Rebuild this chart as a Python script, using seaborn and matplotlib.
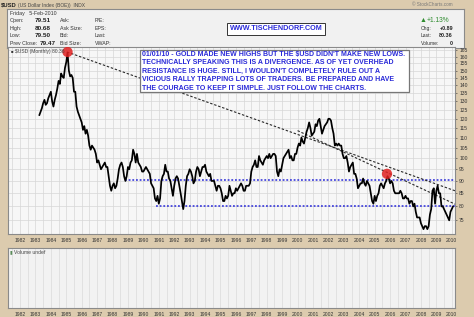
import numpy as np
import pandas as pd
import matplotlib
matplotlib.use("Agg")
import matplotlib.pyplot as plt
import seaborn as sns
from matplotlib.ticker import FixedLocator, NullLocator

sns.set_style("white")
plt.rcParams["font.family"] = ["Liberation Sans", "DejaVu Sans"]

# $USD monthly closes, first bar = April 1983
start_year = 1983
start_month = 4
usd_close = [
    122, 124, 126, 129, 131, 128, 129, 132, 134,                # 1983
    136, 130, 127, 131, 134, 138, 143, 141, 148, 146, 145, 152,  # 1984
    156, 163, 150, 146, 147, 145, 136, 136, 127, 124, 122, 120,  # 1985
    118, 114, 116, 112, 114, 111, 106, 104, 106, 105, 104, 102,  # 1986
    98, 99, 97, 95, 96, 97, 98, 96, 96, 92, 88, 86,              # 1987
    88, 89, 87, 88, 91, 95, 97, 98, 96, 92, 90, 92,              # 1988
    96, 95, 98, 99, 104, 102, 98, 102, 98, 97, 96, 94,           # 1989
    94, 95, 96, 95, 94, 93, 89, 88, 87, 83, 82, 84,              # 1990
    81, 83, 90, 92, 93, 97, 94, 94, 91, 90, 87, 84,              # 1991
    88, 91, 92, 91, 88, 85, 82, 79, 82, 88, 92, 93,              # 1992
    95, 94, 92, 89, 90, 94, 96, 95, 92, 94, 96, 96,              # 1993
    97, 94, 93, 92, 93, 90, 90, 90, 88, 86, 88, 88,              # 1994
    87, 85, 82, 82, 84, 83, 84, 88, 86, 84, 85, 85,              # 1995
    87, 86, 87, 88, 89, 88, 86, 86, 88, 88, 88, 89,              # 1996
    94, 96, 97, 99, 96, 96, 101, 99, 98, 97, 99, 100,            # 1997
    101, 100, 102, 100, 101, 102, 102, 101, 94, 92, 95, 94,      # 1998
    97, 100, 101, 102, 103, 104, 100, 101, 99, 99, 102, 102,     # 1999
    105, 107, 106, 110, 108, 107, 110, 113, 115, 118, 115, 111,  # 2000
    112, 113, 117, 116, 119, 120, 116, 112, 114, 116, 117, 118,  # 2001
    120, 120, 119, 115, 112, 106, 107, 106, 107, 106, 106, 102,  # 2002
    100, 100, 101, 98, 94, 96, 97, 98, 93, 93, 91, 87,           # 2003
    88, 89, 89, 91, 89, 88, 90, 89, 88, 85, 82, 81,              # 2004
    84, 82, 84, 85, 88, 89, 88, 87, 89, 90, 92, 91,              # 2005
    89, 90, 89, 86, 85, 85, 85, 85, 86, 85, 83, 83,              # 2006
    84, 83, 83, 81, 82, 82, 80, 81, 78, 76, 76, 76,              # 2007
    74, 73, 72, 73, 73, 72, 73, 77, 79, 86, 87, 81,              # 2008
    86, 88, 85, 85, 80, 80, 79, 78, 77, 76, 75, 78,              # 2009
    79, 80,                                                      # 2010
]

# hand-drawn annotations
trend_a_t = [1985.05, 2010.3]
trend_a_v = [163.5, 85.8]
trend_b_t = [2000.0, 2010.3]
trend_b_v = [113.6, 80.6]
support_levels = [90.3, 80.2]
support_start = [1988.8, 1990.85]
circle_t = [1985.08, 2005.8]
circle_v = [163.5, 93.0]

year_labels = list(range(1982, 2011))
price_ticks = list(range(75, 170, 5))

info_rows = ["Open:", "High:", "Low:", "Prev Close:"]
info_vals = ["79.51", "80.68", "79.50", "79.47"]
info_mid = ["Ask:", "Ask Size:", "Bid:", "Bid Size:"]
info_right = ["P/E:", "EPS:", "Last:", "VWAP:"]
quote_labels = ["Chg:", "Last:", "Volume:"]
quote_vals = ["+0.89", "80.36", "0"]

note_lines = [
    "01/01/10 - GOLD MADE NEW HIGHS BUT THE $USD DIDN'T MAKE NEW LOWS.",
    "TECHNICALLY SPEAKING THIS IS A DIVERGENCE. AS OF YET OVERHEAD",
    "RESISTANCE IS HUGE. STILL, I WOULDN'T COMPLETELY RULE OUT A",
    "VICIOUS RALLY TRAPPING LOTS OF TRADERS. BE PREPARED AND HAVE",
    "THE COURAGE TO KEEP IT SIMPLE. JUST FOLLOW THE CHARTS.",
]

df = pd.DataFrame({
    "t": [start_year + (start_month - 1 + i) / 12 for i in range(len(usd_close))],
    "close": usd_close,
})

BEIGE = "#dccbae"
PANEL = "#f7f7f7"
GRID = "#d6d6d6"
BLUE = "#2a2ad8"

W, H = 474, 317
fig = plt.figure(figsize=(W / 100, H / 100), dpi=100, facecolor=BEIGE)


def box(x0, y0, x1, y1):
    return [x0 / W, 1 - y1 / H, (x1 - x0) / W, (y1 - y0) / H]


def put(x, y, s, **kw):
    kw.setdefault("va", "center")
    kw.setdefault("fontsize", 4)
    kw.setdefault("color", "#333333")
    fig.text(x / W, 1 - y / H, s, **kw)


# header / quote box
ax_info = fig.add_axes(box(7, 9, 464, 48))
ax_info.set_facecolor("#f1f1f1")
ax_info.set_xticks([])
ax_info.set_yticks([])
for sp in ax_info.spines.values():
    sp.set_color("#8a8a8a")
    sp.set_linewidth(0.8)

xmin, xmax = 1981.22, 2010.21
ymin, ymax = 70.4, 167.3

# price panel
ax = fig.add_axes(box(8, 47, 455, 234))
ax.set_facecolor(PANEL)
ax.set_yscale("log")
ax.set_xlim(xmin, xmax)
ax.set_ylim(ymin, ymax)

for lvl, t0 in zip(support_levels, support_start):
    ax.plot([t0, xmax], [lvl, lvl], color=BLUE, ls=(0, (1.2, 1.2)), lw=1.1, zorder=3)
ax.plot(trend_a_t, trend_a_v, color="#2a2a2a", ls=(0, (2.2, 1.6)), lw=0.8, zorder=3)
ax.plot(trend_b_t, trend_b_v, color="#2a2a2a", ls=(0, (2.2, 1.6)), lw=0.8, zorder=3)

sns.lineplot(data=df, x="t", y="close", ax=ax, color="black", lw=1.25, zorder=4)
sns.scatterplot(x=circle_t, y=circle_v, ax=ax, color="#e02020", s=55, alpha=0.85,
                edgecolor="none", zorder=5)

ax.yaxis.tick_right()
ax.yaxis.set_major_locator(FixedLocator(price_ticks))
ax.yaxis.set_minor_locator(NullLocator())
ax.set_yticklabels([str(v) for v in price_ticks])
ax.xaxis.set_major_locator(FixedLocator(year_labels))
ax.xaxis.set_minor_locator(FixedLocator([y + 0.5 for y in range(1981, 2011)]))
ax.set_xticklabels([str(y) for y in year_labels])
ax.tick_params(axis="x", which="both", length=0, labelsize=3.6, pad=3, colors="#333333")
ax.tick_params(axis="y", which="major", length=1.5, width=0.4, labelsize=3.6, pad=1.5,
               colors="#333333")
ax.grid(True, which="major", color=GRID, lw=0.5)
ax.grid(True, which="minor", axis="x", color=GRID, lw=0.5)
ax.set_xlabel("")
ax.set_ylabel("")
for sp in ax.spines.values():
    sp.set_color("#8a8a8a")
    sp.set_linewidth(0.8)

# volume panel
axv = fig.add_axes(box(8, 248, 455, 308))
axv.set_facecolor("#f2f2f2")
axv.set_xlim(xmin, xmax)
axv.set_ylim(0, 1)
axv.set_yticks([])
axv.xaxis.set_major_locator(FixedLocator(year_labels))
axv.xaxis.set_minor_locator(FixedLocator([y + 0.5 for y in range(1981, 2011)]))
axv.set_xticklabels([str(y) for y in year_labels])
axv.tick_params(axis="x", which="both", length=0, labelsize=3.6, pad=3, colors="#333333")
axv.grid(True, which="both", axis="x", color="#dadada", lw=0.5)
for sp in axv.spines.values():
    sp.set_color("#8a8a8a")
    sp.set_linewidth(0.8)

# header texts
put(0.5, 5, "$USD", fontsize=4.2, fontweight="bold", color="#222222")
put(18, 5, "(US Dollar Index (BOE))  INDX", fontsize=3.5, color="#444444")
put(412, 5, "© StockCharts.com", fontsize=3.3, color="#777777")
put(10, 13.5, "Friday   5-Feb-2010", fontsize=3.8)
for i in range(4):
    yy = 20.7 + 7.5 * i
    put(10, yy, info_rows[i], fontsize=3.8)
    put(35 if i < 3 else 40, yy, info_vals[i], fontsize=4.6, fontweight="bold", color="#222222")
    put(60, yy, info_mid[i], fontsize=3.8)
    put(95, yy, info_right[i], fontsize=3.8)
put(420, 20.3, "▲", fontsize=5, color="#2e8b2e")
put(427, 20.3, "+1.13%", fontsize=4.8, color="#2e8b2e")
for i in range(3):
    yy = 28.3 + 7.4 * i
    put(421, yy, quote_labels[i], fontsize=3.6)
    put(453, yy, quote_vals[i], fontsize=3.9, fontweight="bold", ha="right", color="#222222")

put(276, 29, "WWW.TISCHENDORF.COM", fontsize=5.2, fontweight="bold", color=BLUE, ha="center",
    bbox=dict(boxstyle="square,pad=0.35", facecolor="white", edgecolor="#333333", lw=0.7))

# panel labels
put(11, 51.5, "■", fontsize=3, color="#333333")
put(15, 51.5, "$USD (Monthly) 80.36", fontsize=3.6, color="#444444")
put(10, 252, "▮", fontsize=3.5, color="#5b8c5b")
put(14, 252, "Volume undef", fontsize=3.6, color="#444444")

# commentary box
fig.patches.append(plt.Rectangle((140 / W, 1 - 92 / H), 269 / W, 42 / H,
                                 transform=fig.transFigure, facecolor="white",
                                 edgecolor="#777777", lw=0.9, zorder=6))
for i, line in enumerate(note_lines):
    put(142, 54.3 + 8.5 * i, line, fontsize=5, fontweight="bold", color=BLUE, zorder=7)

fig.savefig("out.png", dpi=100, facecolor=BEIGE)
